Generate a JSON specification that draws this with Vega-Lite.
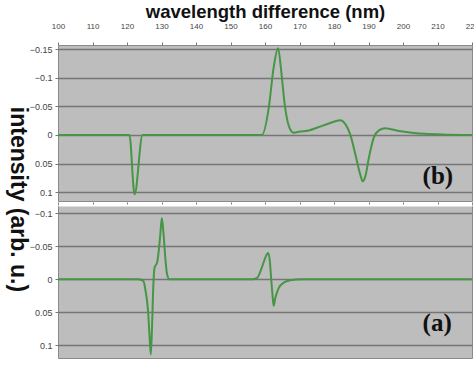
{
  "$schema": "https://vega.github.io/schema/vega-lite/v6.json",
  "padding": {"left": 4, "top": 1, "right": 0, "bottom": 0},
  "background": "white",
  "spacing": 4,
  "bounds": "flush",
  "config": {
    "view": {"fill": "#bdbdbd", "stroke": "#8a8a8a", "strokeWidth": 1},
    "axis": {"labelFont": "Liberation Sans", "titleFont": "Liberation Sans", "labelColor": "#444", "labelFontSize": 9, "tickColor": "#777", "tickCount": 30}
  },
  "datasets": {
    "b": [
      {"x": 100, "y": 0}, {"x": 120.7, "y": 0}, {"x": 122.2, "y": 0.104}, {"x": 124.5, "y": 0},
      {"x": 159.1, "y": 0}, {"x": 161.1, "y": -0.048}, {"x": 162.5, "y": -0.118}, {"x": 163.8, "y": -0.152},
      {"x": 164.7, "y": -0.112}, {"x": 165.7, "y": -0.054}, {"x": 166.9, "y": -0.016}, {"x": 168.3, "y": -0.004},
      {"x": 170.2, "y": -0.006}, {"x": 172.7, "y": -0.008}, {"x": 175.6, "y": -0.014}, {"x": 178.5, "y": -0.02},
      {"x": 181.8, "y": -0.026}, {"x": 183.3, "y": -0.019}, {"x": 184.7, "y": -0.001}, {"x": 186.2, "y": 0.034},
      {"x": 187.6, "y": 0.069}, {"x": 188.3, "y": 0.081}, {"x": 189.1, "y": 0.072}, {"x": 190.1, "y": 0.04},
      {"x": 191.5, "y": 0.005}, {"x": 193.0, "y": -0.008}, {"x": 194.9, "y": -0.012}, {"x": 198.8, "y": -0.007},
      {"x": 202.6, "y": -0.004}, {"x": 206.5, "y": -0.002}, {"x": 211.3, "y": -0.001}, {"x": 220, "y": 0}
    ],
    "a": [
      {"x": 100, "y": 0}, {"x": 123.4, "y": 0}, {"x": 124.8, "y": 0.003}, {"x": 125.3, "y": 0.015},
      {"x": 126.1, "y": 0.048}, {"x": 126.5, "y": 0.083}, {"x": 126.9, "y": 0.114}, {"x": 127.25, "y": 0.073},
      {"x": 127.6, "y": 0.013}, {"x": 128.0, "y": -0.018}, {"x": 128.7, "y": -0.025}, {"x": 129.2, "y": -0.043},
      {"x": 129.65, "y": -0.068}, {"x": 130.1, "y": -0.093}, {"x": 130.6, "y": -0.068}, {"x": 131.1, "y": -0.033},
      {"x": 131.6, "y": -0.008}, {"x": 132.3, "y": 0}, {"x": 156.2, "y": 0}, {"x": 157.7, "y": -0.002},
      {"x": 159.1, "y": -0.018}, {"x": 160.1, "y": -0.033}, {"x": 160.9, "y": -0.04}, {"x": 161.4, "y": -0.028},
      {"x": 161.8, "y": 0}, {"x": 162.2, "y": 0.025}, {"x": 162.5, "y": 0.04}, {"x": 163.0, "y": 0.028},
      {"x": 164.0, "y": 0.013}, {"x": 165.4, "y": 0.005}, {"x": 167.3, "y": 0.0015}, {"x": 170.7, "y": 0}, {"x": 220, "y": 0}
    ],
    "lb": [{"x": 210.1, "y": 0.072, "t": "(b)"}],
    "la": [{"x": 209.9, "y": 0.066, "t": "(a)"}]
  },
  "vconcat": [
    {
      "width": 414,
      "height": 156,
      "layer": [
        {
          "data": {"name": "b"},
          "mark": {"type": "line", "color": "#459645", "strokeWidth": 2, "interpolate": "monotone"},
          "encoding": {
            "x": {"field": "x", "type": "quantitative", "scale": {"domain": [100, 220], "nice": false, "zero": false},
              "axis": {"orient": "top", "values": [100,110,120,130,140,150,160,170,180,190,200,210,220], "labelFlush": false, "labelOverlap": false, "labelFontSize": 8, "grid": false, "domain": false, "tickSize": 3, "labelPadding": 12,
                "title": "wavelength difference (nm)", "titleFontSize": 18.5, "titleFontWeight": "bold", "titleColor": "#111", "titleY": -34, "titleBaseline": "middle"}},
            "y": {"field": "y", "type": "quantitative", "scale": {"domain": [-0.1576, 0.1156], "reverse": true, "nice": false, "zero": false},
              "axis": {"values": [-0.15,-0.1,-0.05,0,0.05,0.1], "format": "~g", "title": null, "grid": true, "gridColor": "#767676", "gridWidth": 1.5, "domain": false, "tickSize": 3, "labelPadding": 3}}
          }
        },
        {
          "data": {"name": "lb"},
          "mark": {"type": "text", "font": "Liberation Serif", "fontWeight": "bold", "fontSize": 25, "color": "#111", "baseline": "middle", "align": "center"},
          "encoding": {
            "x": {"field": "x", "type": "quantitative"},
            "y": {"field": "y", "type": "quantitative"},
            "text": {"field": "t"}
          }
        }
      ]
    },
    {
      "width": 414,
      "height": 153,
      "layer": [
        {
          "data": {"name": "a"},
          "mark": {"type": "line", "color": "#459645", "strokeWidth": 2, "interpolate": "monotone"},
          "encoding": {
            "x": {"field": "x", "type": "quantitative", "scale": {"domain": [100, 220], "nice": false, "zero": false},
              "axis": {"orient": "top", "values": [100,110,120,130,140,150,160,170,180,190,200,210,220], "labels": false, "grid": false, "domain": true, "domainColor": "white", "domainWidth": 2, "tickSize": 3, "title": null}},
            "y": {"field": "y", "type": "quantitative", "scale": {"domain": [-0.1126, 0.1192], "reverse": true, "nice": false, "zero": false},
              "axis": {"values": [-0.1,-0.05,0,0.05,0.1], "format": "~g", "grid": true, "gridColor": "#767676", "gridWidth": 1.5, "domain": false, "tickSize": 3, "labelPadding": 3,
                "title": "intensity (arb. u.)", "titleAngle": 90, "titleFontSize": 23, "titleFontWeight": "bold", "titleColor": "#111", "titleX": -41, "titleY": -6, "titleAlign": "center", "titleBaseline": "middle"}}
          }
        },
        {
          "data": {"name": "la"},
          "mark": {"type": "text", "font": "Liberation Serif", "fontWeight": "bold", "fontSize": 25, "color": "#111", "baseline": "middle", "align": "center"},
          "encoding": {
            "x": {"field": "x", "type": "quantitative"},
            "y": {"field": "y", "type": "quantitative"},
            "text": {"field": "t"}
          }
        }
      ]
    }
  ]
}
